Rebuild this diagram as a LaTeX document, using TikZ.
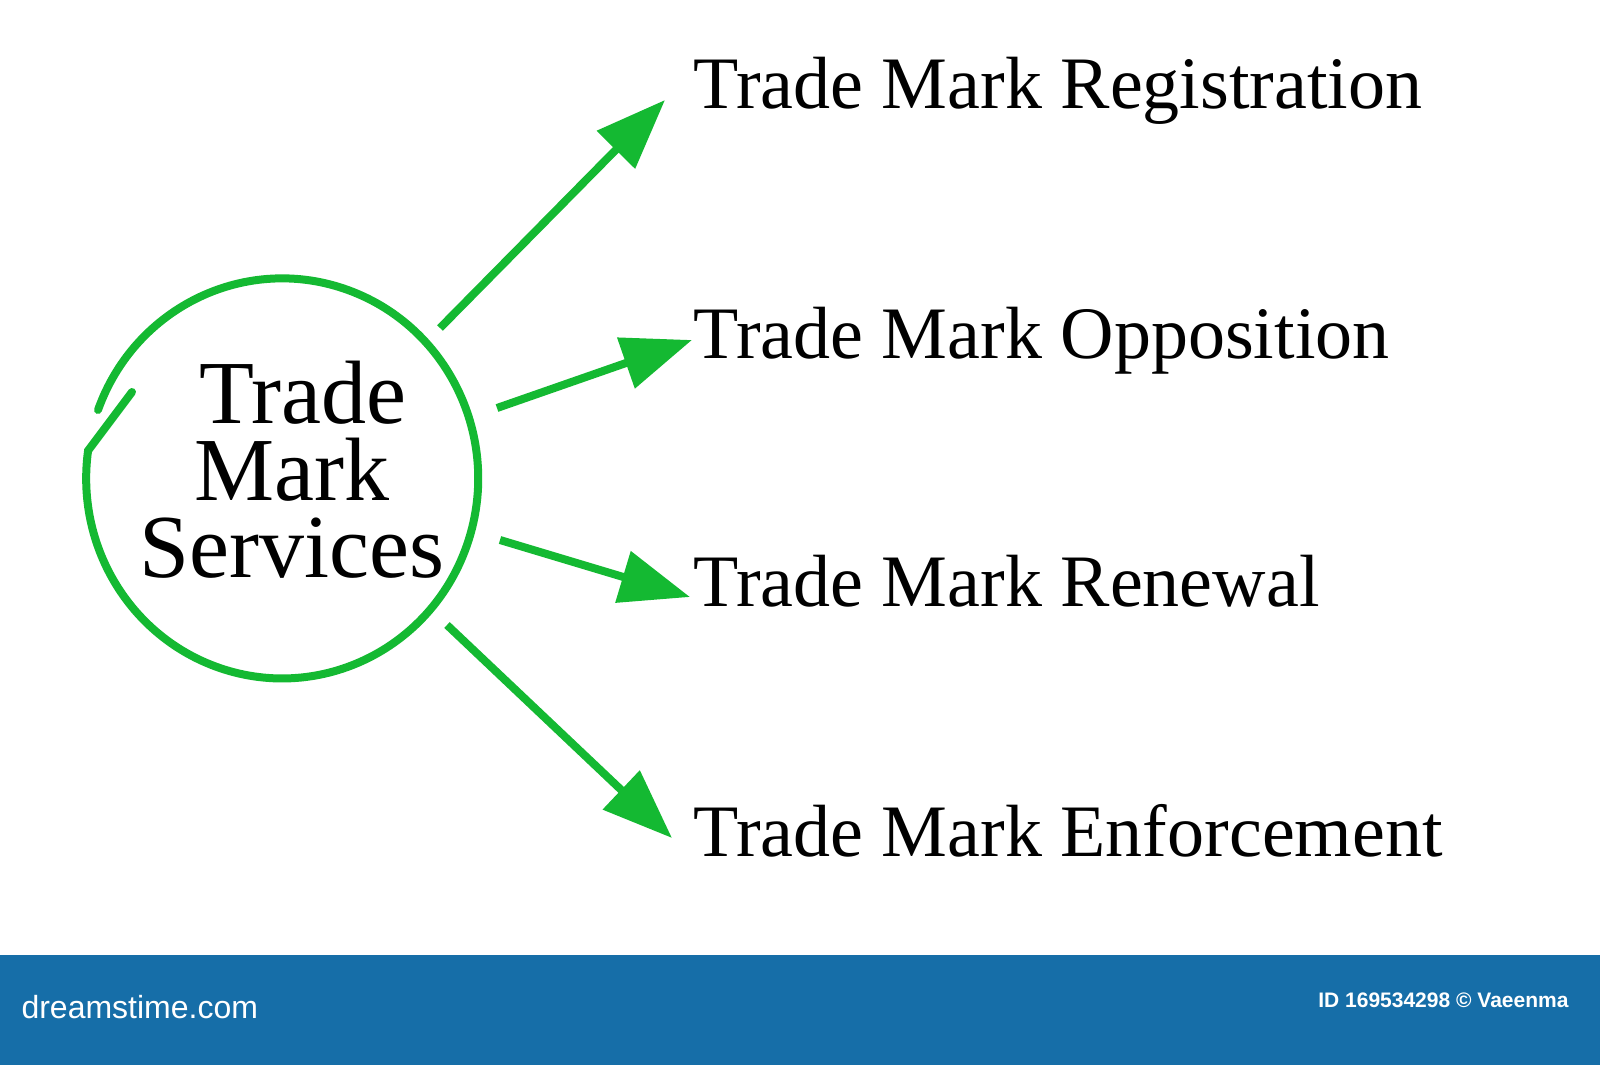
\documentclass[tikz,border=0pt]{standalone}
\usepackage{fontspec}
\setmainfont{Liberation Serif}
\newfontfamily\bannerfont{Liberation Sans}
\usetikzlibrary{arrows.meta}
\definecolor{grn}{RGB}{20,185,50}
\definecolor{bnr}{RGB}{22,110,168}
\begin{document}
\begin{tikzpicture}[x=1pt,y=-1pt,
  arr/.style={draw=grn,line width=8pt,-{Triangle[length=70pt,width=52pt]}},
  lbl/.style={anchor=base west,font=\fontsize{74}{74}\selectfont}]
\useasboundingbox (0,0) rectangle (1600,1065);
\fill[white] (0,0) rectangle (1600,955);
\fill[bnr] (0,955) rectangle (1600,1065);
\draw[grn,line width=8pt,line cap=round] (98,410) arc[start angle=-160,end angle=188,x radius=196,y radius=200] -- (132,392);
\node[align=center,font=\fontsize{90}{77}\selectfont] (c) at (292,470) {\ Trade\\Mark\\Services};
\coordinate (s1) at (440,328); \coordinate (e1) at (665,100);
\coordinate (s2) at (497,408); \coordinate (e2) at (692,340);
\coordinate (s3) at (500,540); \coordinate (e3) at (690,597);
\coordinate (s4) at (447,625); \coordinate (e4) at (672,838);
\draw[arr] (s1) -- (e1);
\draw[arr] (s2) -- (e2);
\draw[arr] (s3) -- (e3);
\draw[arr] (s4) -- (e4);
\node[lbl] (t1) at (690,108) {Trade Mark Registration};
\node[lbl] (t2) at (690,358) {Trade Mark Opposition};
\node[lbl] (t3) at (690,606) {Trade Mark Renewal};
\node[lbl] (t4) at (690,856) {Trade Mark Enforcement};
\node[anchor=west,text=white,font=\bannerfont\fontsize{32}{32}\selectfont] (b1) at (18,1007) {dreamstime.com};
\node[anchor=east,text=white,font=\bannerfont\bfseries\fontsize{21}{21}\selectfont] (b2) at (1572,1000) {ID 169534298 © Vaeenma};
\end{tikzpicture}
\end{document}
